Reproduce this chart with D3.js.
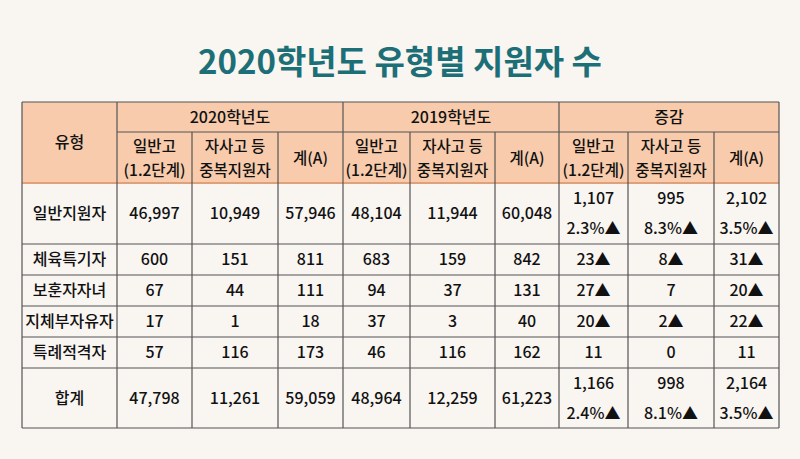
<!DOCTYPE html>
<html><head><meta charset="utf-8">
<script src="https://cdn.jsdelivr.net/npm/d3@7"></script>
<style>body{margin:0;background:#f9f5f1;}</style>
</head><body>
<svg id="c" width="800" height="459"></svg>
<script>
const title = "2020학년도 유형별 지원자 수";
const groups = ["2020학년도","2019학년도","증감"];
const subHeaders = [["일반고","(1.2단계)"],["자사고 등","중복지원자"],["계(A)"]];
const categories = ["일반지원자","체육특기자","보훈자자녀","지체부자유자","특례적격자","합계"];
const y2020 = [["46,997","10,949","57,946"],["600","151","811"],["67","44","111"],["17","1","18"],["57","116","173"],["47,798","11,261","59,059"]];
const y2019 = [["48,104","11,944","60,048"],["683","159","842"],["94","37","131"],["37","3","40"],["46","116","162"],["48,964","12,259","61,223"]];
const diff = [[["1,107","2.3%▲"],["995","8.3%▲"],["2,102","3.5%▲"]],[["23▲"],["8▲"],["31▲"]],[["27▲"],["7"],["20▲"]],[["20▲"],["2▲"],["22▲"]],[["11"],["0"],["11"]],[["1,166","2.4%▲"],["998","8.1%▲"],["2,164","3.5%▲"]]];

const svg = d3.select("#c");
const F = "'Noto Sans CJK KR', 'Noto Sans', sans-serif";
svg.append("text").attr("x",400).attr("y",74).attr("text-anchor","middle")
  .attr("font-family",F).attr("font-weight",700).attr("font-size",33).attr("fill","#1c6f77").text(title);

const colX = [22,117,192,278,343,410,495,559,628,714,779];
const rowY = [102,132,183,244,275,306,337,368,428];
const stroke="#555";
svg.append("rect").attr("x",colX[0]).attr("y",rowY[0]).attr("width",colX[10]-colX[0]).attr("height",rowY[2]-rowY[0]).attr("fill","#f7cbab");
function txt(x,y,lines,lh,size){
  const n=lines.length; lh=lh||0;
  lines.forEach((l,i)=>{
    svg.append("text").attr("x",x).attr("y",y+(i-(n-1)/2)*lh).attr("dy","0.35em")
      .attr("text-anchor","middle").attr("font-family",F).attr("font-size",size||16).attr("font-weight",500).attr("fill","#111").text(l);
  });
}
txt((colX[0]+colX[1])/2,(rowY[0]+rowY[2])/2,["유형"]);
groups.forEach((g,i)=>txt((colX[1+3*i]+colX[4+3*i])/2,(rowY[0]+rowY[1])/2,[g]));
for(let gi=0;gi<3;gi++) subHeaders.forEach((s,j)=>{
  const c=1+3*gi+j; txt((colX[c]+colX[c+1])/2,(rowY[1]+rowY[2])/2+1,s,24,15.5);
});
categories.forEach((cat,r)=>{
  const cy=(rowY[r+2]+rowY[r+3])/2;
  txt((colX[0]+colX[1])/2,cy,[cat]);
  const vals=[...y2020[r].map(v=>[v]),...y2019[r].map(v=>[v]),...diff[r]];
  vals.forEach((v,c)=>txt((colX[c+1]+colX[c+2])/2,cy,v,30,16));
});
const g=svg.append("g").attr("stroke",stroke).attr("stroke-width",1.2);
rowY.forEach((y,i)=>{
  let x1=colX[0]; if(i===1) x1=colX[1];
  g.append("line").attr("x1",x1).attr("x2",colX[10]).attr("y1",y).attr("y2",y)
   .attr("stroke",i===2?"#e0a079":stroke).attr("stroke-width",i===2?2:1.2);
});
colX.forEach((x,i)=>{
  const major=[0,1,4,7,10].includes(i);
  g.append("line").attr("x1",x).attr("x2",x).attr("y1",major?rowY[0]:rowY[1]).attr("y2",rowY[8]);
});
</script>
</body></html>
